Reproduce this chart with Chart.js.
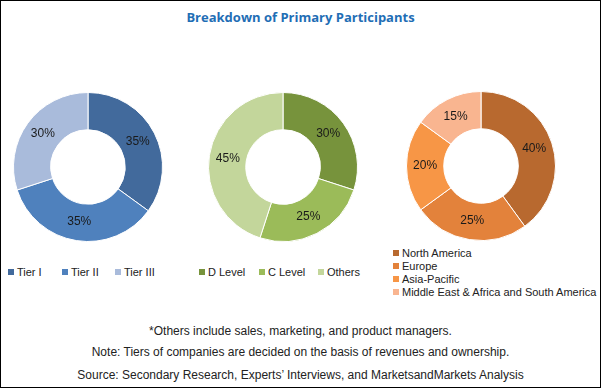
<!DOCTYPE html>
<html>
<head>
<meta charset="utf-8">
<script src="https://cdn.jsdelivr.net/npm/chart.js@4"></script>
<style>
  body { margin: 0; background: #fff; font-family: "Liberation Sans", Arial, sans-serif; }
  #frame { position: relative; width: 601px; height: 388px; box-sizing: border-box; border: 1px solid #000; overflow: hidden; }
  #title { position: absolute; left: 0; top: 7px; width: 100%; text-align: center; font-family: "Open Sans", sans-serif; font-weight: bold; font-size: 13px; color: #1f6eb5; }
  canvas { position: absolute; }
  .legend { position: absolute; font-size: 11px; color: #222; }
  .legend span.item { position: absolute; white-space: nowrap; }
  .legend i { display: inline-block; width: 6px; height: 6px; margin-right: 3px; vertical-align: 1px; }
  .foot { position: absolute; left: 0; width: 100%; text-align: center; font-size: 12px; color: #222; }
</style>
</head>
<body>
<div id="frame">
  <div id="title">Breakdown of Primary Participants</div>
  <canvas id="c1" width="150" height="150" style="left:12px;top:91px"></canvas>
  <canvas id="c2" width="150" height="150" style="left:207px;top:91px"></canvas>
  <canvas id="c3" width="150" height="150" style="left:405px;top:90px"></canvas>
  <div class="legend" id="l1" style="left:7px;top:265px"></div>
  <div class="legend" id="l2" style="left:198px;top:265px"></div>
  <div class="legend" id="l3" style="left:392px;top:246px"></div>
  <div class="foot" style="top:323px">*Others include sales, marketing, and product managers.</div>
  <div class="foot" style="top:344px">Note: Tiers of companies are decided on the basis of revenues and ownership.</div>
  <div class="foot" style="top:367px">Source: Secondary Research, Experts’ Interviews, and MarketsandMarkets Analysis</div>
</div>
<script>
let tierLabels = ["Tier I", "Tier II", "Tier III"]
let tierValues = [35, 35, 30]
let tierColors = ["#426a9c", "#4f81bd", "#a9bbdb"]

let levelLabels = ["D Level", "C Level", "Others"]
let levelValues = [30, 25, 45]
let levelColors = ["#77933c", "#9bbb59", "#c3d69b"]

let regionLabels = ["North America", "Europe", "Asia-Pacific", "Middle East & Africa and South America"]
let regionValues = [40, 25, 20, 15]
let regionColors = ["#b8692f", "#e3823b", "#f79646", "#f9b590"]

// draws the % text in the middle of every slice
let pctLabels = {
  id: "pctLabels",
  afterDatasetsDraw(chart) {
    let c = chart.ctx
    let meta = chart.getDatasetMeta(0)
    c.save()
    c.font = "12px 'Liberation Sans', Arial, sans-serif"
    c.fillStyle = "#1a1a1a"
    c.textAlign = "center"
    c.textBaseline = "middle"
    meta.data.forEach((arc, i) => {
      let p = arc.tooltipPosition()
      c.fillText(chart.data.datasets[0].data[i] + "%", p.x, p.y)
    })
    c.restore()
  }
}

function donut(id, labels, values, colors) {
  return new Chart(document.getElementById(id).getContext("2d"), {
    type: "doughnut",
    data: {
      labels: labels,
      datasets: [{
        data: values,
        backgroundColor: colors,
        borderColor: "#ffffff",
        borderWidth: 1
      }]
    },
    options: {
      responsive: false,
      animation: false,
      cutout: "50%",
      layout: { padding: 0 },
      plugins: { legend: { display: false }, tooltip: { enabled: false } }
    },
    plugins: [pctLabels]
  })
}

donut("c1", tierLabels, tierValues, tierColors)
donut("c2", levelLabels, levelValues, levelColors)
donut("c3", regionLabels, regionValues, regionColors)

// html legends
function legend(id, labels, colors, xs, ys) {
  let el = document.getElementById(id)
  labels.forEach((l, i) => {
    let s = document.createElement("span")
    s.className = "item"
    s.style.left = xs[i] + "px"
    s.style.top = ys[i] + "px"
    s.innerHTML = '<i style="background:' + colors[i] + '"></i>'
    s.appendChild(document.createTextNode(l))
    el.appendChild(s)
  })
}
legend("l1", tierLabels, tierColors, [0, 54, 107], [0, 0, 0])
legend("l2", levelLabels, levelColors, [0, 60, 119], [0, 0, 0])
legend("l3", regionLabels, regionColors, [0, 0, 0, 0], [0, 13, 26, 39])
</script>
</body>
</html>
